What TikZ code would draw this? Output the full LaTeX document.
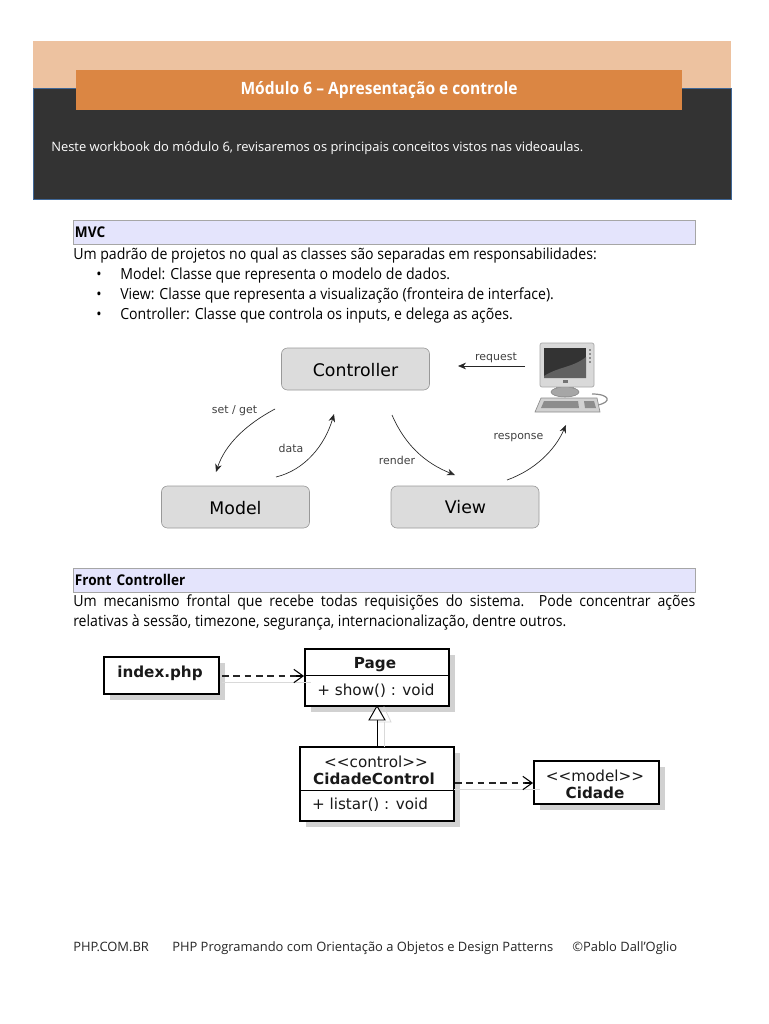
\documentclass[tikz,border=0pt]{standalone}
\usepackage{fontspec}
\setmainfont{Open Sans}
\newfontfamily\bodyfont[FakeStretch=0.92]{Open Sans}
\newfontfamily\umlfont{DejaVu Sans}
\usepackage{xcolor}
\usetikzlibrary{arrows.meta, positioning, calc, shadows}
\definecolor{peachband}{HTML}{EDC2A0}
\definecolor{darkband}{HTML}{333333}
\definecolor{bandedge}{HTML}{3F6797}
\definecolor{orangeband}{HTML}{DB8643}
\definecolor{lilacbar}{HTML}{E4E4FC}
\definecolor{boxgray}{HTML}{DCDCDC}
\def\px{0.75pt}
\tikzset{
    sectionbar/.style={draw=black!35, fill=lilacbar, line width=0.5pt, minimum width=622*\px, minimum height=24*\px, inner sep=1pt, text=black, font=\bodyfont\fontsize{11.1}{13}\selectfont\bfseries, align=left, text width=622*\px-2pt},
    bodytext/.style={anchor=base west, inner sep=0pt, font=\bodyfont\fontsize{11.5}{15}\selectfont},
    footertext/.style={anchor=base west, inner sep=0pt, font=\fontsize{9.7}{11}\selectfont, text=black!85},
    mvcbox/.style={draw=black!40, fill=boxgray, rounded corners=4.5pt, line width=0.5pt, minimum width=148*\px, minimum height=42*\px, font=\umlfont\fontsize{13}{15}\selectfont},
    flowlabel/.style={inner sep=0pt, text=black!75, font=\umlfont\fontsize{8.2}{10}\selectfont},
    flowarrow/.style={draw=black!85, line width=0.5pt, -{Stealth[length=6pt,width=5pt]}},
    classbox/.style={draw=black, fill=white, line width=1.4pt, drop shadow={shadow xshift=4.5pt, shadow yshift=-4.5pt, fill=black!18, opacity=1}},
    umltext/.style={inner sep=0pt, font=\umlfont\fontsize{11.4}{14}\selectfont, text=black!90},
    umlbold/.style={umltext, font=\umlfont\fontsize{11.4}{14}\selectfont\bfseries},
    depends/.style={draw=black!85, line width=0.8pt, dashed, dash pattern=on 5pt off 3.5pt},
    dependstip/.style={draw=black, line width=0.8pt, -{Straight Barb[length=7pt,width=10pt]}},
    ghostline/.style={draw=black!15, line width=0.6pt}
}
\begin{document}
\begin{tikzpicture}[x=0.75pt, y=-0.75pt]
    \useasboundingbox (0,0) rectangle (768,1024);
    \fill[white] (0,0) rectangle (768,1024);

    \fill[peachband] (33,41) rectangle (731,88);
    \draw[fill=darkband, draw=bandedge, line width=0.6pt] (33,88) rectangle (731,199.5);
    \node[fill=orangeband, minimum width=606*\px, minimum height=40*\px, text=white, font=\bodyfont\fontsize{12.7}{15}\selectfont\bfseries] (titlebar) at (379,90) {Módulo 6 – Apresentação e controle};
    \node[bodytext, text=white, font=\fontsize{9.7}{11}\selectfont] (intro) at (51,151) {Neste workbook do módulo 6, revisaremos os principais conceitos vistos nas videoaulas.};

    \node[sectionbar] (mvcbar) at (384.6,232) {MVC};
    \node[bodytext] (mvcintro) at (73,259) {Um padrão de projetos no qual as classes são separadas em responsabilidades:};
    \node[bodytext] (bulletm) at (96,279) {•};
    \node[bodytext] (itemm) at (120,279) {Model: Classe que representa o modelo de dados.};
    \node[bodytext] (bulletv) at (96,299) {•};
    \node[bodytext] (itemv) at (120,299) {View: Classe que representa a visualização (fronteira de interface).};
    \node[bodytext] (bulletc) at (96,319) {•};
    \node[bodytext] (itemc) at (120,319) {Controller: Classe que controla os inputs, e delega as ações.};

    \node[mvcbox] (controller) at (355.5,369) {};
    \node[inner sep=0pt, font=\umlfont\fontsize{13}{15}\selectfont] (controllername) at (355.5,370) {Controller};
    \node[mvcbox] (model) at (235.5,507) {};
    \node[inner sep=0pt, font=\umlfont\fontsize{13}{15}\selectfont] (modelname) at (235.5,508) {Model};
    \node[mvcbox] (view) at (465,507) {};
    \node[inner sep=0pt, font=\umlfont\fontsize{13}{15}\selectfont] (viewname) at (465.5,507.5) {View};

    % computer
    \coordinate (pcport) at (525,366);
    \coordinate (pcin) at (566,425);
    \draw[black!45, line width=0.9pt] (592,394) .. controls (610,394) and (612,402) .. (598,405);
    \fill[black!45] (556,387) rectangle (574,392);
    \draw[fill=black!35, draw=black!50, line width=0.4pt] (565,392) ellipse (10.5pt and 3.75pt);
    \draw[fill=black!15, draw=black!35, line width=0.5pt, rounded corners=1.5pt] (540,343) rectangle (594,387);
    \fill[black!80] (544,348) rectangle (586,378);
    \fill[black!62] (544,378) -- (586,378) -- (586,357) .. controls (572,368) and (560,366) .. (544,376) -- cycle;
    \foreach \btn in {349,353,357,361}
        \fill[black!45] (589,\btn) rectangle (591,\btn+2);
    \fill[black!55] (563,380) rectangle (568,383);
    \draw[fill=black!18, draw=black!45, line width=0.5pt] (541,398) -- (597,398) -- (600,412) -- (535,412) -- cycle;
    \fill[black!45] (544,401) -- (578,401) -- (579,408) -- (541,408) -- cycle;
    \fill[black!45] (584,401) -- (594,401) -- (596,408) -- (585,408) -- cycle;

    \draw[flowarrow] (pcport) -- (458,366);
    \node[flowlabel] (request) at (496,357.5) {request};
    \draw[flowarrow] (275,409) .. controls (245,425) and (225,445) .. (216,472);
    \node[flowlabel] (setget) at (234.5,410.5) {set / get};
    \draw[flowarrow] (276,477) .. controls (305,470) and (325,445) .. (334,414);
    \node[flowlabel] (data) at (291,448) {data};
    \draw[flowarrow] (392,415) .. controls (405,445) and (425,463) .. (455,475);
    \node[flowlabel] (render) at (397,460) {render};
    \draw[flowarrow] (507,480) .. controls (535,470) and (555,450) .. (pcin);
    \node[flowlabel] (response) at (518.5,438) {response};

    \node[sectionbar] (frontbar) at (384.6,580) {Front Controller};
    \node[bodytext, anchor=north west, text width=622*\px, align=justify] (frontintro) at (73,594) {Um mecanismo frontal que recebe todas requisições do sistema. Pode concentrar ações \mbox{relativas} à sessão, timezone, segurança, internacionalização, dentre outros.};

    \node[classbox, minimum width=115*\px, minimum height=37*\px] (index) at (161.5,675.5) {};
    \node[umlbold] (indexname) at (160,673) {index.php};
    \node[classbox, minimum width=144*\px, minimum height=57*\px] (page) at (377,677.5) {};
    \node[umlbold] (pagename) at (375,664.5) {Page};
    \draw[black, line width=0.7pt] (page.west |- 0,675) -- (page.east |- 0,675);
    \node[umltext] (pageop) at (376,690.5) {+ show() : void};
    \node[classbox, minimum width=154*\px, minimum height=74*\px] (control) at (377,784) {};
    \node[umltext] (controlst) at (376,762) {<{}<control>{}>};
    \node[umlbold] (controlname) at (374,778.5) {CidadeControl};
    \draw[black, line width=0.7pt] (control.west |- 0,790) -- (control.east |- 0,790);
    \node[umltext] (controlop) at (370,805) {+ listar() : void};
    \node[classbox, minimum width=125*\px, minimum height=43*\px] (cidade) at (596.5,782.5) {};
    \node[umltext] (cidadest) at (595,775.5) {<{}<model>{}>};
    \node[umlbold] (cidadename) at (595,792.5) {Cidade};

    % ghost lines
    \draw[ghostline] (222,682) -- (311,682);
    \draw[ghostline] (454,789) -- (540,789);
    \draw[ghostline] (384,747) -- (384,722);
    \draw[ghostline] (377,722) -- (384,707) -- (391,722) -- cycle;

    \draw[depends] (222,676) -- (298,676);
    \draw[dependstip] (296,676) -- (page.west |- 0,676);
    \draw[depends] (control.east |- 0,783) -- (527,783);
    \draw[dependstip] (525,783) -- (cidade.west |- 0,783);
    \draw[black, line width=0.7pt] (control.north -| 377,0) -- (377,720);
    \draw[fill=white, draw=black, line width=0.7pt] (377,706) -- (385,720) -- (369,720) -- cycle;

    \node[footertext] (footera) at (73,951) {PHP.COM.BR};
    \node[footertext] (footerb) at (172,951) {PHP Programando com Orientação a Objetos e Design Patterns};
    \node[footertext] (footerc) at (572,951) {©Pablo Dall’Oglio};
\end{tikzpicture}
\end{document}
